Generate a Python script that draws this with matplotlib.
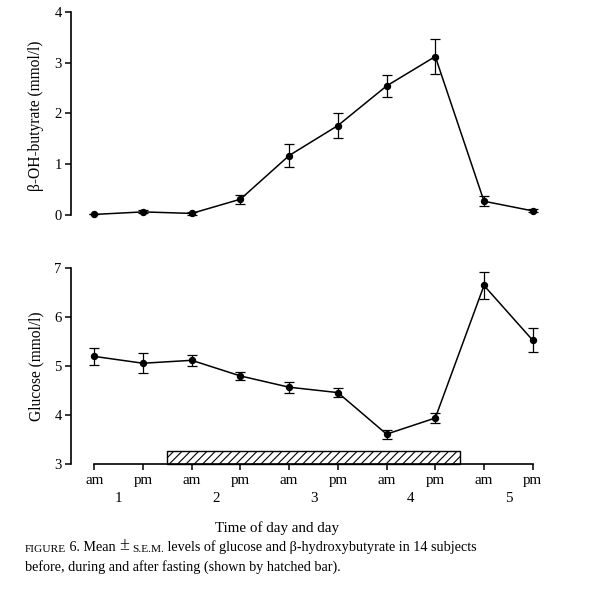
import numpy as np
import matplotlib.pyplot as plt
from matplotlib.patches import Rectangle

plt.rcParams['font.family'] = ['Liberation Serif', 'DejaVu Serif']
plt.rcParams['hatch.linewidth'] = 0.8

# sampling points: am / pm on days 1-5
time_labels = ['am', 'pm'] * 5
day_labels = ['1', '2', '3', '4', '5']

# beta-hydroxybutyrate (mmol/l), mean and s.e.m.
bohb_mean = [0.01, 0.06, 0.03, 0.31, 1.17, 1.76, 2.54, 3.12, 0.27, 0.08]
bohb_sem = [0.0, 0.03, 0.03, 0.09, 0.23, 0.25, 0.21, 0.34, 0.10, 0.03]

# glucose (mmol/l), mean and s.e.m.
glucose_mean = [5.20, 5.06, 5.12, 4.80, 4.57, 4.46, 3.61, 3.94, 6.65, 5.53]
glucose_sem = [0.17, 0.20, 0.11, 0.09, 0.11, 0.10, 0.09, 0.11, 0.27, 0.25]

# fasting period (hatched bar), in sample-index units
fast_start = 1.5
fast_end = 7.5
fast_height = 0.27

x = np.arange(len(time_labels))

fig = plt.figure(figsize=(5.92, 6.0), dpi=100)
ax_top = fig.add_axes([0.1206, 0.6333, 0.8204, 0.347])
ax_bot = fig.add_axes([0.1206, 0.2267, 0.8204, 0.326])

style = dict(color='black', lw=1.1, marker='o', ms=4.3, capsize=3.5,
             elinewidth=0.9, capthick=0.9)

ax_top.errorbar(x, bohb_mean, yerr=bohb_sem, **style)
ax_bot.errorbar(x, glucose_mean, yerr=glucose_sem, **style)

for ax in (ax_top, ax_bot):
    ax.set_xlim(-0.47, 9.5)
    for s in ('top', 'right'):
        ax.spines[s].set_visible(False)
    ax.spines['left'].set_linewidth(1.2)
    ax.tick_params(axis='y', direction='out', length=4, width=1.1,
                   pad=3, labelsize=10.5)

# top panel
ax_top.set_ylim(-0.1, 4.0)
ax_top.set_yticks([0, 1, 2, 3, 4])
ax_top.spines['left'].set_bounds(0, 4)
ax_top.spines['bottom'].set_visible(False)
ax_top.set_xticks([])
ax_top.set_ylabel('β-OH-butyrate (mmol/l)', fontsize=11.2)
ax_top.yaxis.set_label_coords(-0.056, 0.5)

# bottom panel
ax_bot.set_ylim(3, 7)
ax_bot.set_yticks([3, 4, 5, 6, 7])
ax_bot.spines['left'].set_bounds(3, 7)
ax_bot.spines['bottom'].set_bounds(x[0], x[-1])
ax_bot.spines['bottom'].set_linewidth(1.2)
ax_bot.set_xticks(x)
ax_bot.set_xticklabels(time_labels)
ax_bot.tick_params(axis='x', which='major', direction='out', length=4,
                   width=1.1, pad=3, labelsize=10.8)
ax_bot.set_xticks(x[::2] + 0.5, minor=True)
ax_bot.set_xticklabels(day_labels, minor=True)
ax_bot.tick_params(axis='x', which='minor', length=0, pad=20, labelsize=10.8)
ax_bot.set_ylabel('Glucose (mmol/l)', fontsize=11.2)
ax_bot.yaxis.set_label_coords(-0.056, 0.5)

ax_bot.add_patch(Rectangle((fast_start, 3), fast_end - fast_start, fast_height,
                           facecolor='white', edgecolor='black', lw=1.0,
                           hatch='////', zorder=1, clip_on=False))

fig.text(277 / 592, 1 - 528 / 600, 'Time of day and day', ha='center',
         va='center', fontsize=10.8)

# caption, "FIGURE" and "S.E.M." set in small caps
big, small = 10.2, 8.2
prev = fig.text(25 / 592, 1 - 554 / 600, 'FIGURE', fontsize=small, va='bottom')
pieces = [(' 6. Mean ', big), ('±', 13), (' ', big), ('S.E.M.', small),
          (' levels of glucose and β-hydroxybutyrate in 14 subjects', big)]
for txt, size in pieces:
    prev = ax_bot.annotate(txt, xy=(1, 0), xycoords=prev, fontsize=size,
                           va='bottom', ha='left', annotation_clip=False)
fig.text(25 / 592, 1 - 574 / 600,
         'before, during and after fasting (shown by hatched bar).',
         fontsize=big, va='bottom')

fig.savefig('out.png', dpi=100)
